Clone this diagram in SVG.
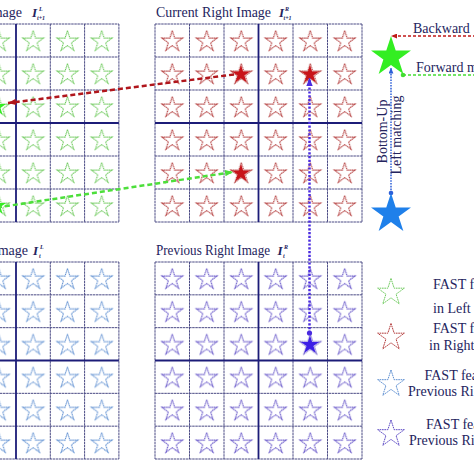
<svg xmlns="http://www.w3.org/2000/svg" xmlns:xlink="http://www.w3.org/1999/xlink" width="474" height="474" viewBox="0 0 474 474">
<style>
.sg{fill:none;stroke:#6cc95a;stroke-width:1;stroke-dasharray:1.2 0.5}
.sr{fill:none;stroke:#b03434;stroke-width:1;stroke-dasharray:1.2 0.5}
.sb{fill:none;stroke:#5a8cd0;stroke-width:1;stroke-dasharray:1.2 0.5}
.sp{fill:none;stroke:#5a48c4;stroke-width:1;stroke-dasharray:1.2 0.5}
.thin{fill:none;stroke:#4a4a84;stroke-width:1;stroke-dasharray:2.5 0.6}
.thick{fill:none;stroke:#1c1c78;stroke-width:1.8}
.t{font-family:"Liberation Serif","Times New Roman",serif;font-size:14px;fill:#24245e}
.ti{font-family:"Liberation Serif","Times New Roman",serif;font-size:13px;font-style:italic;font-weight:bold;fill:#24245e}
.ts{font-family:"Liberation Serif","Times New Roman",serif;font-size:6px;font-style:italic;font-weight:bold;fill:#24245e}
.lg{stroke-width:0.7}
</style>
<defs>
<path id="st" d="M0,-10 L2.245,-3.09 L9.511,-3.09 L3.633,1.18 L5.878,8.09 L0,3.82 L-5.878,8.09 L-3.633,1.18 L-9.511,-3.09 L-2.245,-3.09Z"/>
<pattern id="pG" patternUnits="userSpaceOnUse" x="-86.9" y="24" width="34.3" height="33"><use href="#st" class="sg" transform="translate(17.15,17.5) scale(1.08)"/></pattern>
<pattern id="pR" patternUnits="userSpaceOnUse" x="155" y="24" width="34.5" height="33"><use href="#st" class="sr" transform="translate(17.25,17.5) scale(1.08)"/></pattern>
<pattern id="pB" patternUnits="userSpaceOnUse" x="-86.9" y="262" width="34.3" height="32.83"><use href="#st" class="sb" transform="translate(17.15,17.4) scale(1.08)"/></pattern>
<pattern id="pP" patternUnits="userSpaceOnUse" x="155" y="262" width="34.5" height="32.83"><use href="#st" class="sp" transform="translate(17.25,17.4) scale(1.08)"/></pattern>
<marker id="aR" viewBox="0 0 10 8" refX="10" refY="4" markerWidth="8" markerHeight="7" markerUnits="userSpaceOnUse" orient="auto"><path d="M0,0 L10,4 L0,8Z" fill="#b0161c"/></marker>
<marker id="aG" viewBox="0 0 10 8" refX="10" refY="4" markerWidth="8" markerHeight="7" markerUnits="userSpaceOnUse" orient="auto"><path d="M0,0 L10,4 L0,8Z" fill="#4ddf3b"/></marker>
<marker id="aP" viewBox="0 0 10 8" refX="10" refY="4" markerWidth="8" markerHeight="7" markerUnits="userSpaceOnUse" orient="auto"><path d="M0,0 L10,4 L0,8Z" fill="#4a2be0"/></marker>
<marker id="aRs" viewBox="0 0 10 8" refX="10" refY="4" markerWidth="6" markerHeight="5" markerUnits="userSpaceOnUse" orient="auto"><path d="M0,0 L10,4 L0,8Z" fill="#c01818"/></marker>
<marker id="aBs" viewBox="0 0 10 8" refX="10" refY="4" markerWidth="6" markerHeight="5" markerUnits="userSpaceOnUse" orient="auto"><path d="M0,0 L10,4 L0,8Z" fill="#2d5fd8"/></marker>
</defs>
<rect width="474" height="474" fill="#ffffff"/>

<g id="current-left-image">
<rect x="-86.9" y="24" width="205.8" height="198" fill="url(#pG)"/>
<path class="thin" d="M-52.6,24V222M-18.3,24V222M50.3,24V222M84.6,24V222M118.9,24V222M-86.9,24H118.9M-86.9,57H118.9M-86.9,90H118.9M-86.9,156H118.9M-86.9,189H118.9M-86.9,222H118.9"/>
<path class="thick" d="M16,24V222M-86.9,123H118.9"/>
<use href="#st" fill="#33ee22" transform="translate(-3,107) scale(0.95)"/>
<use href="#st" fill="#33ee22" transform="translate(-3,206) scale(0.95)"/>
<text class="t" x="22" y="17" text-anchor="end">Image</text>
<text class="ti" x="32" y="17">I</text>
<text class="ts" x="39" y="11">L</text>
<text class="ts" x="37" y="20">t+1</text>
</g>

<g id="current-right-image">
<rect x="155" y="24" width="207" height="198" fill="url(#pR)"/>
<path class="thin" d="M155,24V222M189.5,24V222M224,24V222M293,24V222M327.5,24V222M362,24V222M155,24H362M155,57H362M155,90H362M155,156H362M155,189H362M155,222H362"/>
<path class="thick" d="M258.5,24V222M155,123H362"/>
<use href="#st" fill="#c8141a" transform="translate(241,74.5) scale(0.95)"/>
<use href="#st" fill="#c8141a" transform="translate(310,74.5) scale(0.95)"/>
<use href="#st" fill="#c8141a" transform="translate(241,173.5) scale(0.95)"/>
<text class="t" x="156" y="17" textLength="115" lengthAdjust="spacingAndGlyphs">Current Right Image</text>
<text class="ti" x="279" y="17">I</text>
<text class="ts" x="285" y="11">R</text>
<text class="ts" x="283.5" y="20">t+1</text>
</g>

<g id="previous-left-image">
<rect x="-86.9" y="262" width="205.8" height="197" fill="url(#pB)"/>
<path class="thin" d="M-52.6,262V459M-18.3,262V459M50.3,262V459M84.6,262V459M118.9,262V459M-86.9,262H118.9M-86.9,294.83H118.9M-86.9,327.67H118.9M-86.9,393.33H118.9M-86.9,426.17H118.9M-86.9,459H118.9"/>
<path class="thick" d="M16,262V459M-86.9,360.5H118.9"/>
<text class="t" x="28" y="255" text-anchor="end">Image</text>
<text class="ti" x="33" y="255">I</text>
<text class="ts" x="40" y="249">L</text>
<text class="ts" x="39" y="258">t</text>
</g>

<g id="previous-right-image">
<rect x="155" y="262" width="207" height="197" fill="url(#pP)"/>
<path class="thin" d="M155,262V459M189.5,262V459M224,262V459M293,262V459M327.5,262V459M362,262V459M155,262H362M155,294.83H362M155,327.67H362M155,393.33H362M155,426.17H362M155,459H362"/>
<path class="thick" d="M258.5,262V459M155,360.5H362"/>
<use href="#st" fill="#3c1ee6" transform="translate(310,345) scale(0.95)"/>
<text class="t" x="156" y="255" textLength="114" lengthAdjust="spacingAndGlyphs">Previous Right Image</text>
<text class="ti" x="277.5" y="255">I</text>
<text class="ts" x="284" y="249">R</text>
<text class="ts" x="283" y="258">t</text>
</g>

<g id="connectors">
<path d="M234,74.5 L8,103" fill="none" stroke="#b0161c" stroke-width="2.5" stroke-dasharray="5 3" marker-end="url(#aR)"/>
<path d="M-3,207.5 L233,172" fill="none" stroke="#4ddf3b" stroke-width="2.5" stroke-dasharray="5 3" marker-end="url(#aG)"/>
<path d="M309.5,333 L309.5,78" fill="none" stroke="#4a2be0" stroke-width="2.5" stroke-dasharray="2.2 1.6" marker-end="url(#aP)"/>
<circle cx="309.5" cy="333" r="2.6" fill="#4a2be0"/>
<path d="M476,36 L391,36" fill="none" stroke="#c01818" stroke-width="1.5" stroke-dasharray="3 2" marker-end="url(#aRs)"/>
<path d="M476,75 L403,75" fill="none" stroke="#44dd33" stroke-width="1.5" stroke-dasharray="3 2"/>
<circle cx="403" cy="75" r="2.3" fill="#44dd33"/>
<path d="M391,193 L391,67.5" fill="none" stroke="#2d5fd8" stroke-width="1.5" stroke-dasharray="1.6 1.2" marker-end="url(#aBs)"/>
<circle cx="391" cy="193" r="2.3" fill="#2d5fd8"/>
</g>

<g id="matching-legend">
<use href="#st" fill="#33ee22" transform="translate(391,57) scale(2.1)"/>
<use href="#st" fill="#1f80ea" transform="translate(391,214) scale(2.1)"/>
<text class="t" x="413" y="33">Backward</text>
<text class="t" x="416" y="72">Forward m</text>
<text class="t" transform="translate(387,131.5) rotate(-90)" text-anchor="middle">Bottom-Up</text>
<text class="t" transform="translate(401,135) rotate(-90)" text-anchor="middle">Left matching</text>
</g>

<g id="legend-left">
<use href="#st" class="sg lg" transform="translate(391,292.5) scale(1.4)"/>
<text class="t" x="433" y="289">FAST f</text>
<text class="t" x="433" y="313">in Left</text>
</g>
<g id="legend-right">
<use href="#st" class="sr lg" transform="translate(391,337.5) scale(1.4)"/>
<text class="t" x="433" y="333">FAST f</text>
<text class="t" x="429" y="350">in Right</text>
</g>
<g id="legend-prev-left">
<use href="#st" class="sb lg" transform="translate(391,384) scale(1.4)"/>
<text class="t" x="424.5" y="380">FAST fea</text>
<text class="t" x="408" y="396">Previous Ri</text>
</g>
<g id="legend-prev-right">
<use href="#st" class="sp lg" transform="translate(391,434) scale(1.4)"/>
<text class="t" x="426" y="429">FAST fea</text>
<text class="t" x="409" y="445">Previous Ri</text>
</g>
</svg>
